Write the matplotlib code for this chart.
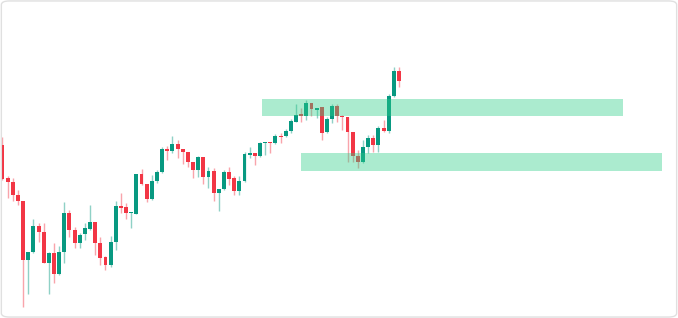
import matplotlib
matplotlib.use("Agg")
import matplotlib.pyplot as plt
from matplotlib.patches import FancyBboxPatch
import numpy as np

# OHLC values (price levels)
opens = [175, 142, 138, 125, 119, 60, 68, 94, 88, 57, 67, 46, 68, 107, 90, 77, 86, 91, 98, 77,
         63, 55, 78, 114, 113, 107, 106, 146, 136, 121, 139, 148, 171, 169, 176, 171, 168, 158, 150, 163,
         143, 149, 127, 131, 148, 142, 129, 139, 165, 167, 164, 177, 178, 177, 184, 184, 189, 198, 206, 204,
         217, 210, 213, 188, 201, 214, 204, 203, 188, 164, 158, 173, 182, 175, 192, 189, 224, 249]
highs = [183, 144, 142, 130, 119, 68, 101, 97, 97, 68, 77, 74, 118, 110, 93, 87, 97, 115, 98, 83,
         64, 84, 119, 127, 117, 108, 146, 151, 136, 145, 150, 173, 174, 184, 180, 171, 168, 158, 164, 163,
         153, 152, 131, 150, 153, 144, 144, 168, 173, 167, 178, 178, 178, 186, 187, 191, 201, 216, 212, 220,
         217, 212, 213, 203, 216, 216, 205, 203, 188, 170, 180, 185, 185, 194, 200, 226, 253, 253]
lows = [140, 122, 119, 115, 13, 26, 67, 78, 57, 26, 37, 45, 57, 83, 72, 72, 80, 90, 65, 55,
        50, 53, 70, 107, 101, 92, 106, 135, 118, 120, 137, 147, 160, 167, 162, 156, 153, 142, 143, 136,
        132, 119, 109, 130, 135, 125, 125, 138, 162, 155, 163, 165, 167, 176, 177, 183, 187, 198, 198, 200,
        204, 202, 180, 187, 197, 198, 190, 158, 158, 152, 157, 167, 168, 168, 188, 187, 223, 233]
closes = [141, 138, 125, 119, 60, 68, 94, 88, 57, 67, 46, 68, 107, 90, 77, 85, 92, 98, 77, 62,
          55, 78, 114, 112, 107, 108, 146, 136, 121, 139, 148, 171, 169, 176, 171, 168, 158, 150, 163, 143,
          149, 127, 131, 148, 141, 129, 139, 166, 167, 164, 177, 178, 177, 184, 183, 189, 199, 205, 204, 217,
          211, 212, 187, 201, 214, 204, 203, 188, 164, 158, 173, 182, 175, 192, 189, 224, 249, 239]

# supply / demand zones: bar index start, bar index end, price low, price high
zone_start = [50.4, 57.9]
zone_end = [120.5, 128.1]
zone_low = [204, 149]
zone_high = [221, 167]

UP = "#089981"
DOWN = "#f23645"
ZONE = "#2dcd87"

fig = plt.figure(figsize=(6.78, 3.18), dpi=100)
fig.patch.set_facecolor("white")
ax = fig.add_axes([0, 0, 1, 1])
ax.set_facecolor("white")

x = np.arange(len(opens))
o = np.array(opens, dtype=float)
c = np.array(closes, dtype=float)
h = np.array(highs, dtype=float)
l = np.array(lows, dtype=float)
up = c >= o
colors = np.where(up, UP, DOWN)

# wicks (lighter) then bodies
for xi, hi, lo, col in zip(x, h, l, colors):
    ax.vlines(xi, lo, hi, color=col, alpha=0.45, linewidth=1.0, zorder=2)

bottoms = np.minimum(o, c)
heights = np.maximum(np.abs(c - o), 1.0)
ax.bar(x, heights, bottom=bottoms, width=0.76, color=colors, linewidth=0, zorder=3)

# zones drawn on top, semi transparent
for xs, xe, lo, hi in zip(zone_start, zone_end, zone_low, zone_high):
    ax.fill_between([xs, xe], lo, hi, color=ZONE, alpha=0.4, linewidth=0, zorder=4)

ax.set_xlim(-0.485, 131.17)
ax.set_ylim(2, 320)
ax.axis("off")

# card border
card = FancyBboxPatch((0.002, 0.003), 0.996, 0.994, boxstyle="round,pad=0,rounding_size=0.012",
                      transform=fig.transFigure, facecolor="none", edgecolor="#e0e0e0",
                      linewidth=1.0, zorder=10)
fig.patches.append(card)

fig.savefig("out.png", dpi=100, facecolor="white")
